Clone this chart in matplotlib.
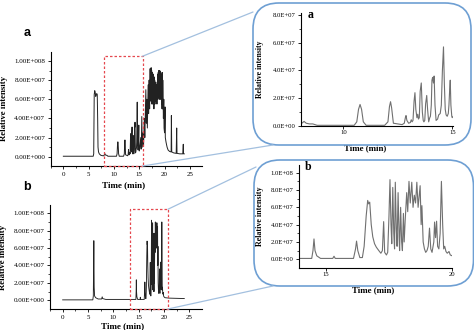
import numpy as np
import matplotlib
matplotlib.use('Agg')
import matplotlib.pyplot as plt
from matplotlib.patches import FancyBboxPatch, Rectangle, ConnectionPatch
from matplotlib.transforms import Affine2D

plt.rcParams['font.family'] = ['Liberation Serif', 'DejaVu Serif']

W, H = 474, 330
E7 = 1e7

# ---------------- data (time in min, intensity in units of 1E+07) ----------------
# sample a: 0 - 8 min
pre_a_t = [0.0, 5.9, 6.0, 6.1, 6.2, 6.3, 6.4, 6.5, 6.6, 6.7, 6.78, 6.85, 6.95, 7.1, 7.4, 7.8, 8.0]
pre_a_y = [0.05, 0.05, 0.3, 6.5, 6.9, 6.7, 6.3, 6.5, 6.6, 6.5, 4.0, 1.0, 0.5, 0.3, 0.15, 0.1, 0.1]

# sample a: 8 - 15 min (zoomed inset a)
mid_a_t = [8.0, 8.1, 8.2, 8.3, 8.45, 8.6, 8.8, 9.2, 10.5, 10.62, 10.7, 10.77, 10.84, 10.92,
           11.05, 11.9, 12.05, 12.12, 12.17, 12.22, 12.3, 12.7, 12.8, 12.85, 12.88, 12.92,
           13.0, 13.08, 13.12, 13.16, 13.2, 13.25, 13.29, 13.33, 13.38, 13.42, 13.45, 13.49,
           13.53, 13.58, 13.63, 13.67, 13.7, 13.74, 13.78, 13.83, 13.87, 13.92, 13.97, 14.0,
           14.04, 14.07, 14.1, 14.14, 14.17, 14.21, 14.26, 14.33, 14.38, 14.45, 14.5, 14.55,
           14.6, 14.64, 14.68, 14.72, 14.77, 14.82, 14.85, 14.88, 14.91, 14.94, 14.98, 15.0]
mid_a_y = [0.1, 0.2, 0.33, 0.2, 0.15, 0.15, 0.05, 0.05, 0.05, 0.3, 1.2, 1.55, 1.2, 0.3,
           0.05, 0.05, 0.3, 1.4, 1.75, 1.3, 0.2, 0.1, 0.2, 0.6, 0.75, 0.4,
           0.2, 0.25, 0.45, 0.3, 0.4, 1.8, 2.4, 1.2, 0.6, 0.85, 0.5, 0.6,
           2.5, 3.1, 1.0, 0.4, 0.3, 0.4, 1.6, 2.2, 1.2, 0.3, 0.6, 0.7,
           1.5, 3.3, 3.5, 3.1, 3.6, 1.5, 0.4, 0.5, 0.8, 0.9, 1.5, 4.0,
           5.7, 3.0, 1.2, 0.8, 0.7, 0.9, 1.5, 2.5, 3.3, 1.5, 0.7, 0.6]

# sample a: 15 - 24 min
post_a_t = [15.0, 15.1, 15.3, 15.4, 15.5, 15.6, 15.75, 15.85, 16.0, 16.1, 16.3, 16.4, 16.5,
            16.6, 16.75, 16.85, 16.95, 17.05, 17.15, 17.2, 17.25, 17.3, 17.35, 17.4, 17.45,
            17.5, 17.55, 17.6, 17.65, 17.7, 17.75, 17.8, 17.85, 17.9, 17.95, 18.0, 18.05,
            18.1, 18.15, 18.2, 18.25, 18.3, 18.35, 18.4, 18.45, 18.5, 18.55, 18.6, 18.65,
            18.7, 18.75, 18.8, 18.85, 18.9, 18.95, 19.0, 19.05, 19.1, 19.15, 19.2, 19.25,
            19.3, 19.35, 19.4, 19.45, 19.5, 19.55, 19.6, 19.65, 19.7, 19.77, 19.85, 19.9,
            20.0, 20.1, 20.15, 20.3, 20.5, 20.7, 21.0, 21.3, 21.35, 21.42, 21.8, 22.3,
            22.4, 22.46, 23.0, 23.6, 23.7, 23.75, 23.9]
post_a_y = [0.6, 0.8, 2.0, 0.8, 4.2, 1.0, 2.5, 1.2, 4.0, 2.0, 7.0, 3.5, 6.0,
            3.0, 7.5, 4.5, 8.0, 5.0, 9.2, 6.5, 9.0, 5.8, 9.3, 6.5, 9.0,
            5.5, 8.8, 6.0, 8.7, 5.5, 8.6, 6.2, 8.4, 5.0, 8.3, 6.0, 8.0,
            5.5, 7.8, 6.0, 7.6, 5.8, 7.3, 6.0, 7.5, 5.5, 7.8, 6.5, 8.6,
            6.0, 8.8, 6.5, 9.0, 6.2, 8.9, 6.0, 9.0, 6.5, 8.9, 6.0, 8.8,
            6.2, 8.5, 5.5, 8.6, 5.0, 8.8, 5.0, 8.0, 6.0, 4.0, 6.0, 3.0,
            2.5, 5.2, 2.0, 1.5, 1.0, 0.7, 0.55, 0.5, 4.3, 0.5, 0.4, 0.35,
            3.0, 0.35, 0.3, 0.3, 1.3, 0.3, 0.3]

# sample b: 0 - 14 min
pre_b_t = [0.0, 5.95, 6.05, 6.15, 6.22, 6.3, 6.5, 7.0, 7.7, 7.8, 7.9, 8.5, 13.9]
pre_b_y = [0.05, 0.05, 0.5, 6.85, 1.5, 0.5, 0.3, 0.15, 0.15, 0.4, 0.2, 0.1, 0.1]

# sample b: 14 - 20 min (zoomed inset b)
mid_b_t = [14.0, 14.45, 14.5, 14.54, 14.58, 14.65, 14.8, 15.28, 15.33, 15.38, 16.1, 16.18,
           16.22, 16.27, 16.35, 16.45, 16.52, 16.6, 16.66, 16.7, 16.74, 16.8, 16.86, 16.93,
           17.0, 17.1, 17.18, 17.24, 17.29, 17.33, 17.4, 17.45, 17.5, 17.54, 17.58, 17.61,
           17.65, 17.69, 17.72, 17.75, 17.79, 17.82, 17.86, 17.9, 17.92, 17.96, 18.0, 18.03,
           18.07, 18.1, 18.14, 18.2, 18.24, 18.29, 18.34, 18.4, 18.45, 18.5, 18.55, 18.6,
           18.65, 18.73, 18.77, 18.8, 18.85, 18.9, 18.95, 19.0, 19.05, 19.1, 19.15, 19.2,
           19.27, 19.3, 19.34, 19.38, 19.42, 19.47, 19.52, 19.57, 19.62, 19.66, 19.7, 19.75,
           19.8, 19.87, 19.92, 20.0]
mid_b_y = [0.1, 0.1, 1.0, 2.35, 1.0, 0.4, 0.1, 0.1, 0.35, 0.1, 0.1, 1.2,
           2.1, 1.0, 0.2, 0.2, 1.5, 5.0, 6.8, 6.4, 6.6, 4.0, 2.6, 1.8,
           1.4, 1.0, 0.7, 1.0, 4.35, 0.8, 0.5, 0.8, 5.0, 9.2, 4.0, 1.8,
           8.3, 3.0, 1.2, 8.9, 3.5, 1.5, 7.7, 2.5, 1.0, 6.0, 2.0, 1.0,
           5.3, 2.0, 4.5, 7.7, 5.5, 9.0, 6.5, 8.9, 6.0, 7.4, 6.5, 8.9,
           6.0, 8.5, 4.0, 6.2, 2.0, 1.2, 0.8, 1.0, 1.5, 3.6, 1.2, 0.8,
           2.0, 4.3, 2.5, 4.4, 1.5, 1.2, 3.0, 9.0, 4.0, 1.2, 1.5, 0.9,
           0.7, 0.9, 0.5, 0.4]

# sample b: 20 - 24 min
post_b_t = [20.0, 20.2, 21.0, 24.0]
post_b_y = [0.4, 0.3, 0.25, 0.2]

main_yticks = [0, 2e7, 4e7, 6e7, 8e7, 1e8]
main_ylabels = ['0.00E+000', '2.00E+007', '4.00E+007', '6.00E+007', '8.00E+007', '1.00E+008']
main_xticks = [0, 5, 10, 15, 20, 25]
ins_a_yticks = [0, 2e7, 4e7, 6e7, 8e7]
ins_a_ylabels = ['0.0E+00', '2.0E+07', '4.0E+07', '6.0E+07', '8.0E+07']
ins_a_xticks = [10, 15]
ins_b_yticks = [0, 2e7, 4e7, 6e7, 8e7, 1e8]
ins_b_ylabels = ['0.0E+00', '2.0E+07', '4.0E+07', '6.0E+07', '8.0E+07', '1.0E+08']
ins_b_xticks = [15, 20]

# --------------------------------------------------------------------------------
ta = np.concatenate([pre_a_t, mid_a_t, post_a_t])
ya = np.concatenate([pre_a_y, mid_a_y, post_a_y]) * E7
tb = np.concatenate([pre_b_t, mid_b_t, post_b_t])
yb = np.concatenate([pre_b_y, mid_b_y, post_b_y]) * E7

fig = plt.figure(figsize=(W / 100, H / 100), dpi=100)
px = Affine2D().scale(1.0 / W, 1.0 / H) + fig.transFigure


def ax_px(x0, y0, x1, y1):
    return fig.add_axes([x0 / W, 1 - y1 / H, (x1 - x0) / W, (y1 - y0) / H])


def style(ax, labsize=5):
    for s in ['top', 'right']:
        ax.spines[s].set_visible(False)
    for s in ['left', 'bottom']:
        ax.spines[s].set_linewidth(0.8)
    ax.tick_params(which='major', direction='out', length=2.5, width=0.6,
                   labelsize=labsize, pad=1.5)
    ax.tick_params(which='minor', direction='out', length=1.5, width=0.5)
    ax.set_facecolor('none')


BOX = '#6e9fd3'
LINK = '#a3c0df'
RED = '#e5484f'
lab_font = dict(fontweight='bold', family='Liberation Serif')

# ---- main a ----
axA = ax_px(50.7, 51.7, 202, 166)
axA.plot(ta, ya, color='#222222', lw=0.7)
axA.set_xlim(-2.5, 27.4)
axA.set_ylim(-0.97e7, 1.097e8)
axA.set_xticks(main_xticks)
axA.set_xticks(np.arange(-2.5, 27.5, 2.5), minor=True)
axA.set_yticks(main_yticks)
axA.set_yticklabels(main_ylabels)
axA.set_yticks(np.arange(0, 1.1e8, 1e7), minor=True)
style(axA)
axA.set_ylabel('Relative intensity', fontsize=6.3, **lab_font)
axA.yaxis.set_label_coords(-0.285, 0.5)
axA.set_xlabel('Time (min)', fontsize=6.5, **lab_font)
axA.xaxis.set_label_coords(0.48, -0.13)

# ---- main b ----
axB = ax_px(50, 205, 202, 309)
axB.plot(tb, yb, color='#222222', lw=0.65)
axB.set_xlim(-2.36, 27.5)
axB.set_ylim(-1.0e7, 1.095e8)
axB.set_xticks(main_xticks)
axB.set_xticks(np.arange(-2.5, 27.5, 2.5), minor=True)
axB.set_yticks(main_yticks)
axB.set_yticklabels(main_ylabels)
axB.set_yticks(np.arange(0, 1.1e8, 1e7), minor=True)
style(axB)
axB.set_ylabel('Relative intensity', fontsize=6.3, **lab_font)
axB.yaxis.set_label_coords(-0.28, 0.5)
axB.set_xlabel('Time (min)', fontsize=6.5, **lab_font)
axB.xaxis.set_label_coords(0.48, -0.13)

# ---- inset a ----
axIA = ax_px(301, 13.3, 453.3, 126)
axIA.plot(ta, ya, color='#707070', lw=0.8)
axIA.set_xlim(8.06, 15.05)
axIA.set_ylim(0, 8.12e7)
axIA.set_xticks(ins_a_xticks)
axIA.set_yticks(ins_a_yticks)
axIA.set_yticklabels(ins_a_ylabels)
axIA.set_yticks(np.arange(0, 8.1e7, 1e7), minor=True)
style(axIA, labsize=4.8)
axIA.tick_params(axis='x', pad=0.5)
axIA.set_ylabel('Relative intensity', fontsize=5.6, **lab_font)
axIA.yaxis.set_label_coords(-0.24, 0.5)
axIA.set_xlabel('Time (min)', fontsize=6.4, **lab_font)
axIA.xaxis.set_label_coords(0.42, -0.165)
axIA.text(0.06, 0.985, 'a', transform=axIA.transAxes, fontsize=8.5,
          ha='center', va='center', **lab_font)

# ---- inset b ----
axIB = ax_px(299.3, 165, 452.3, 268.3)
axIB.plot(tb, yb, color='#707070', lw=0.8)
axIB.set_xlim(13.96, 20.0)
axIB.set_ylim(-1.04e7, 1.089e8)
axIB.set_xticks(ins_b_xticks)
axIB.set_yticks(ins_b_yticks)
axIB.set_yticklabels(ins_b_ylabels)
axIB.set_yticks(np.arange(0, 1.05e8, 1e7), minor=True)
style(axIB, labsize=4.8)
axIB.tick_params(axis='x', pad=0.5)
axIB.set_ylabel('Relative intensity', fontsize=5.8, **lab_font)
axIB.yaxis.set_label_coords(-0.23, 0.5)
axIB.set_xlabel('Time (min)', fontsize=6.4, **lab_font)
axIB.xaxis.set_label_coords(0.48, -0.17)
axIB.text(0.06, 0.98, 'b', transform=axIB.transAxes, fontsize=8.5,
          ha='center', va='center', **lab_font)

# ---- panel letters ----
fig.text(27 / W, 1 - 33 / H, 'a', fontsize=9, fontweight='bold',
         family='Liberation Sans', ha='center', va='center')
fig.text(27 / W, 1 - 187 / H, 'b', fontsize=9, fontweight='bold',
         family='Liberation Sans', ha='center', va='center')

# ---- rounded boxes ----
for (x0, y0, x1, y1) in [(253, 3, 471, 145), (254, 160, 473.5, 286)]:
    fig.add_artist(FancyBboxPatch((x0, H - y1), x1 - x0, y1 - y0,
                                  boxstyle='round,pad=0,rounding_size=26',
                                  transform=px, fill=False, ec=BOX, lw=1.2))

# ---- red dashed zoom regions ----
axA.add_patch(Rectangle((8.1, -0.97e7), 15.66 - 8.1, 1.05e8 + 0.97e7, fill=False,
                        ec=RED, lw=0.9, ls=(0, (2, 1.6)), clip_on=False, zorder=5))
axB.add_patch(Rectangle((13.36, -1.0e7), 20.77 - 13.36, 1.046e8 + 1.0e7, fill=False,
                        ec=RED, lw=0.9, ls=(0, (2, 1.6)), clip_on=False, zorder=5))

# ---- connector lines ----
links = [(axA, (15.66, 1.05e8), (253, 12)),
         (axA, (15.66, -0.97e7), (273, 145)),
         (axB, (20.77, 1.046e8), (256, 167)),
         (axB, (20.77, -1.0e7), (273, 286))]
for ax, xyA, (bx, by) in links:
    fig.add_artist(ConnectionPatch(xyA=xyA, coordsA=ax.transData,
                                   xyB=(bx, H - by), coordsB=px,
                                   color=LINK, lw=0.9))

fig.savefig('out.png', dpi=100)
